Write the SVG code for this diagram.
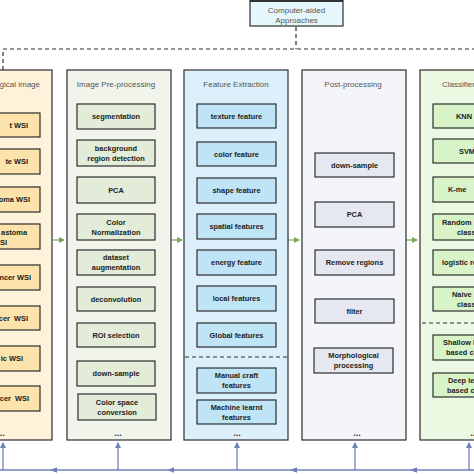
<svg xmlns="http://www.w3.org/2000/svg" width="474" height="474" viewBox="0 0 474 474">
<defs>
<style>
.col{stroke:#2e2e2e;stroke-width:1.2}
.bx{stroke:#2e2e2e;stroke-width:1.2}
.ttl{font-family:"Liberation Sans",Arial,sans-serif;font-size:8px;fill:#555}
.t{font-family:"Liberation Sans",Arial,sans-serif;font-size:7.4px;font-weight:bold;fill:#222;text-anchor:middle}
.te{font-family:"Liberation Sans",Arial,sans-serif;font-size:7.4px;font-weight:bold;fill:#222;text-anchor:end}
.ts{font-family:"Liberation Sans",Arial,sans-serif;font-size:7.4px;font-weight:bold;fill:#222}
.dots{font-family:"Liberation Sans",Arial,sans-serif;font-size:9px;font-weight:bold;fill:#333;text-anchor:middle}
.dash{fill:none;stroke:#2e2e2e;stroke-width:1.2;stroke-dasharray:4 3}
.g{fill:none;stroke:#7aa55a;stroke-width:1.2}
.b{fill:none;stroke:#6f82b8;stroke-width:1.3}
</style>
<marker id="ga" viewBox="0 0 6 6" refX="5" refY="3" markerWidth="5" markerHeight="5" orient="auto"><path d="M0,0 L6,3 L0,6 z" fill="#7aa55a"/></marker>
<marker id="ba" viewBox="0 0 6 6" refX="5" refY="3" markerWidth="5" markerHeight="5" orient="auto"><path d="M0,0 L6,3 L0,6 z" fill="#6f82b8"/></marker>
</defs>
<rect width="474" height="474" fill="#ffffff"/>

<g id="connectors">
<path class="dash" d="M296,27 V49"/>
<path class="dash" d="M3,70 V49 H474"/>
<path class="g" d="M53,240 H64" marker-end="url(#ga)"/>
<path class="g" d="M171,240 H182" marker-end="url(#ga)"/>
<path class="g" d="M288,240 H299" marker-end="url(#ga)"/>
<path class="g" d="M406,240 H417" marker-end="url(#ga)"/>
<path class="b" d="M0,470 H474"/>
<path class="b" d="M3,470 V443" marker-end="url(#ba)"/>
<path class="b" d="M118,470 V443" marker-end="url(#ba)"/>
<path class="b" d="M237,470 V443" marker-end="url(#ba)"/>
<path class="b" d="M355,470 V443" marker-end="url(#ba)"/>
<path class="b" d="M469,470 V443" marker-end="url(#ba)"/>
<path d="M50,470 L57,467.3 L57,472.7 z" fill="#6f82b8"/>
<path d="M167,470 L174,467.3 L174,472.7 z" fill="#6f82b8"/>
<path d="M290,470 L297,467.3 L297,472.7 z" fill="#6f82b8"/>
<path d="M410,470 L417,467.3 L417,472.7 z" fill="#6f82b8"/>
</g>

<g id="top">
<rect x="250" y="0" width="93" height="26" fill="#e6f7fb" class="bx"/>
<line x1="250" y1="0.5" x2="343" y2="0.5" stroke="#333" stroke-width="3"/>
<text class="ttl" x="296.5" y="12.5" text-anchor="middle">Computer-aided</text>
<text class="ttl" x="296.5" y="22.5" text-anchor="middle">Approaches</text>
</g>

<g id="col1">
<rect x="-53" y="70" width="105" height="370" fill="#fdf3da" class="col"/>
<text class="ttl" x="40" y="87" text-anchor="end">gical image</text>
<rect x="-38" y="113" width="78" height="24" fill="#fbe3ab" class="bx"/>
<text class="te" x="28" y="127.6">t WSI</text>
<rect x="-38" y="149" width="78" height="25" fill="#fbe3ab" class="bx"/>
<text class="te" x="28" y="164.1">te WSI</text>
<rect x="-38" y="187" width="78" height="25" fill="#fbe3ab" class="bx"/>
<text class="te" x="30" y="202.1">oma WSI</text>
<rect x="-38" y="224" width="78" height="25" fill="#fbe3ab" class="bx"/>
<text class="te" x="27" y="234.6">astoma</text>
<text class="te" x="7" y="244.6">SI</text>
<rect x="-38" y="265" width="78" height="25" fill="#fbe3ab" class="bx"/>
<text class="te" x="31" y="280.1">ncer WSI</text>
<rect x="-38" y="306" width="78" height="24" fill="#fbe3ab" class="bx"/>
<text class="te" x="28" y="320.6" xml:space="preserve">cer  WSI</text>
<rect x="-38" y="346" width="78" height="25" fill="#fbe3ab" class="bx"/>
<text class="te" x="23" y="361.1">ic WSI</text>
<rect x="-38" y="386" width="78" height="25" fill="#fbe3ab" class="bx"/>
<text class="te" x="29" y="401.1" xml:space="preserve">cer  WSI</text>
<text class="dots" x="1" y="436">...</text>
</g>

<g id="col2">
<rect x="67" y="70" width="104" height="370" fill="#f0f4ea" class="col"/>
<text class="ttl" x="116" y="87" text-anchor="middle">Image Pre-processing</text>
<rect x="77" y="104" width="78" height="25" fill="#e2ecd8" class="bx"/>
<text class="t" x="116" y="119.1">segmentation</text>
<rect x="77" y="140" width="78" height="26" fill="#e2ecd8" class="bx"/>
<text class="t" x="116" y="150.6">background</text>
<text class="t" x="116" y="160.6">region detection</text>
<rect x="77" y="177" width="78" height="26" fill="#e2ecd8" class="bx"/>
<text class="t" x="116" y="192.6">PCA</text>
<rect x="77" y="214" width="78" height="26" fill="#e2ecd8" class="bx"/>
<text class="t" x="116" y="224.6">Color</text>
<text class="t" x="116" y="234.6">Normalization</text>
<rect x="77" y="250" width="78" height="25" fill="#e2ecd8" class="bx"/>
<text class="t" x="116" y="260.1">dataset</text>
<text class="t" x="116" y="270.1">augmentation</text>
<rect x="77" y="287" width="78" height="24" fill="#e2ecd8" class="bx"/>
<text class="t" x="116" y="301.6">deconvolution</text>
<rect x="77" y="323" width="78" height="24" fill="#e2ecd8" class="bx"/>
<text class="t" x="116" y="337.6">ROI selection</text>
<rect x="77" y="361" width="78" height="25" fill="#e2ecd8" class="bx"/>
<text class="t" x="116" y="376.1">down-sample</text>
<rect x="78" y="394" width="78" height="26" fill="#e2ecd8" class="bx"/>
<text class="t" x="117" y="404.6">Color space</text>
<text class="t" x="117" y="414.6">conversion</text>
<text class="dots" x="118" y="436">...</text>
</g>

<g id="col3">
<rect x="184" y="70" width="104" height="370" fill="#dcf0fb" class="col"/>
<text class="ttl" x="236" y="87" text-anchor="middle">Feature Extraction</text>
<rect x="197" y="104" width="79" height="24" fill="#bee4f6" class="bx"/>
<text class="t" x="236.5" y="118.6">texture feature</text>
<rect x="197" y="142" width="79" height="24" fill="#bee4f6" class="bx"/>
<text class="t" x="236.5" y="156.6">color feature</text>
<rect x="197" y="178" width="79" height="25" fill="#bee4f6" class="bx"/>
<text class="t" x="236.5" y="193.1">shape feature</text>
<rect x="197" y="214" width="79" height="25" fill="#bee4f6" class="bx"/>
<text class="t" x="236.5" y="229.1">spatial features</text>
<rect x="197" y="250" width="79" height="25" fill="#bee4f6" class="bx"/>
<text class="t" x="236.5" y="265.1">energy feature</text>
<rect x="197" y="286" width="79" height="25" fill="#bee4f6" class="bx"/>
<text class="t" x="236.5" y="301.1">local features</text>
<rect x="197" y="323" width="79" height="24" fill="#bee4f6" class="bx"/>
<text class="t" x="236.5" y="337.6">Global features</text>
<path class="dash" d="M185,357 H287"/>
<rect x="197" y="368" width="79" height="25" fill="#bee4f6" class="bx"/>
<text class="t" x="236.5" y="378.1">Manual craft</text>
<text class="t" x="236.5" y="388.1">features</text>
<rect x="197" y="400" width="79" height="24" fill="#bee4f6" class="bx"/>
<text class="t" x="236.5" y="409.6">Machine learnt</text>
<text class="t" x="236.5" y="419.6">features</text>
<text class="dots" x="237" y="436">...</text>
</g>

<g id="col4">
<rect x="302" y="70" width="104" height="370" fill="#f3f5fb" class="col"/>
<text class="ttl" x="353" y="87" text-anchor="middle">Post-processing</text>
<rect x="315" y="153" width="79" height="24" fill="#e5e8f0" class="bx"/>
<text class="t" x="354.5" y="167.6">down-sample</text>
<rect x="315" y="202" width="79" height="25" fill="#e5e8f0" class="bx"/>
<text class="t" x="354.5" y="217.1">PCA</text>
<rect x="315" y="250" width="79" height="25" fill="#e5e8f0" class="bx"/>
<text class="t" x="354.5" y="265.1">Remove regions</text>
<rect x="315" y="299" width="79" height="24" fill="#e5e8f0" class="bx"/>
<text class="t" x="354.5" y="313.6">filter</text>
<rect x="314" y="348" width="79" height="25" fill="#e5e8f0" class="bx"/>
<text class="t" x="353.5" y="358.1">Morphological</text>
<text class="t" x="353.5" y="368.1">processing</text>
<text class="dots" x="357" y="436">...</text>
</g>

<g id="col5">
<rect x="420" y="70" width="104" height="370" fill="#ebf8e2" class="col"/>
<text class="ttl" x="442" y="87">Classifier</text>
<rect x="433" y="104" width="79" height="24" fill="#d9f3c8" class="bx"/>
<text class="ts" x="456" y="118.6">KNN</text>
<rect x="433" y="139" width="79" height="24" fill="#d9f3c8" class="bx"/>
<text class="ts" x="459" y="153.6">SVM</text>
<rect x="433" y="177" width="79" height="25" fill="#d9f3c8" class="bx"/>
<text class="ts" x="448" y="192.1">K-me</text>
<rect x="433" y="214" width="79" height="26" fill="#d9f3c8" class="bx"/>
<text class="ts" x="442" y="224.6">Random</text>
<text class="ts" x="457" y="234.6">class</text>
<rect x="433" y="250" width="79" height="25" fill="#d9f3c8" class="bx"/>
<text class="ts" x="442" y="265.1">logistic re</text>
<rect x="433" y="287" width="79" height="24" fill="#d9f3c8" class="bx"/>
<text class="ts" x="452" y="296.6">Naive</text>
<text class="ts" x="457" y="306.6">class</text>
<path class="dash" d="M422,323 H474"/>
<rect x="433" y="335" width="79" height="25" fill="#d9f3c8" class="bx"/>
<text class="ts" x="443" y="345.1">Shallow l</text>
<text class="ts" x="446" y="355.1">based cl</text>
<rect x="433" y="373" width="79" height="24" fill="#d9f3c8" class="bx"/>
<text class="ts" x="448" y="382.6">Deep le</text>
<text class="ts" x="447" y="392.6">based cl</text>
<text class="dots" x="474" y="436">...</text>
</g>
</svg>
